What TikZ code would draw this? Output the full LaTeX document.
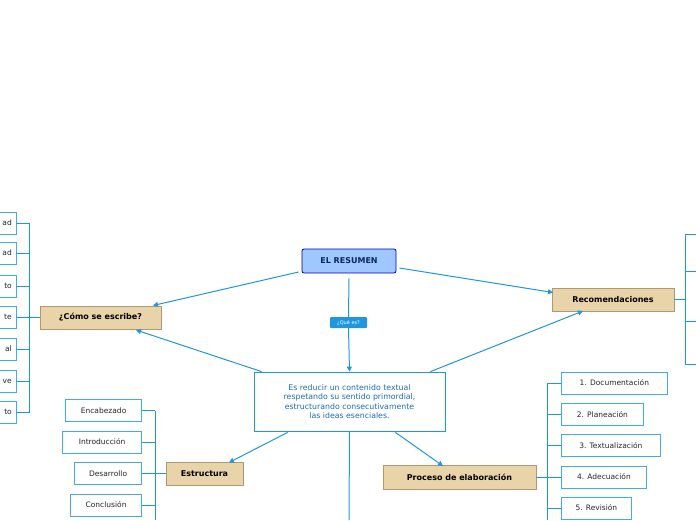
\documentclass[tikz,border=0pt]{standalone}
\usepackage{fontspec}
\setmainfont{DejaVu Sans}
\usetikzlibrary{arrows.meta}
\definecolor{ln}{HTML}{1E96E0}
\definecolor{tan}{HTML}{E8D4A8}
\definecolor{tanb}{HTML}{B09870}
\definecolor{kb}{HTML}{45A8F0}
\begin{document}
\begin{tikzpicture}[x=1pt,y=-1pt,
 lnk/.style={draw=ln,line width=1pt},
 arr/.style={lnk,-{Triangle[length=5pt,width=5pt]}},
 topic/.style={draw=tanb,fill=tan,line width=0.8pt,font=\fontsize{8}{9}\selectfont\bfseries,inner sep=0pt,minimum height=23pt},
 kid/.style={draw=kb,fill=white,line width=0.8pt,font=\fontsize{7.5}{9}\selectfont,inner sep=0pt,minimum height=22pt,text=black!85}]
\useasboundingbox (0,0) rectangle (696,520);
\clip (0,0) rectangle (696,520);
% nodes
\node[draw=blue!70!black,fill={rgb,255:red,158;green,200;blue,255},rounded corners=2pt,line width=0.8pt,minimum width=94pt,minimum height=24pt,inner sep=0pt,font=\fontsize{8}{9}\selectfont\bfseries,text={rgb,255:red,10;green,40;blue,90}] (root) at (349,261) {EL RESUMEN};
\node[fill=ln,rounded corners=1pt,minimum width=37pt,minimum height=11pt,inner sep=0pt,text=white,font=\fontsize{5}{6}\selectfont] (q) at (348.5,322.5) {¿Qué es?};
\node[draw=ln,fill=white,line width=0.8pt,minimum width=191pt,minimum height=59pt,inner sep=0pt,align=center,text={rgb,255:red,30;green,110;blue,176},font=\fontsize{7.8}{9.4}\selectfont] (c) at (349.5,401.5) {Es reducir un contenido textual\\respetando su sentido primordial,\\estructurando consecutivamente\\las ideas esenciales.};
\node[topic,minimum width=121pt] (como) at (100.5,317.5) {¿Cómo se escribe?};
\node[topic,minimum width=122pt] (rec) at (613,299.5) {Recomendaciones};
\node[topic,minimum width=77pt] (est) at (204.5,473.5) {Estructura};
\node[topic,minimum width=153pt,minimum height=24pt] (pro) at (459.5,477) {Proceso de elaboración};
% arrows
\draw[arr] (root.west)++(-3,11) coordinate (r1) -- (153,305.5) coordinate (a1);
\draw[arr] (root.east)++(3,7) coordinate (r2) -- (553,292.5) coordinate (a2);
\draw[lnk] (root.south)++(0,5) coordinate (r3) -- (q.north);
\draw[arr] (q.south) -- (c.north);
\draw[arr] (c.north west)++(8,0) coordinate (c1) -- (136,330) coordinate (a3);
\draw[arr] (c.north east)++(-15,0) coordinate (c2) -- (583,311) coordinate (a4);
\draw[arr] (c.south west)++(34,1) coordinate (c3) -- (229,462.5) coordinate (a5);
\draw[arr] (c.south east)++(-50,1) coordinate (c4) -- (443,466) coordinate (a6);
\coordinate (cb) at (349,520);
\draw[lnk] (c.south) -- (cb);
% left children
\coordinate (lv) at (29,317.5);
\draw[lnk] (como.west) -- (lv);
\foreach \y/\t [count=\i] in {223/ad,253/ad,286/to,317/te,349/al,381/ve,412/to}{
  \node[kid,minimum width=60pt] (l\i) at (-14,\y) {};
  \node[anchor=east,inner sep=0pt,font=\fontsize{7.5}{9}\selectfont,text=black!85] at (12,\y) {\t};
  \draw[lnk,line width=0.8pt] (l\i.east) -- (29,\y);
}
\draw[lnk,line width=0.8pt] (29,222.5) -- (29,412.5);
% estructura children
\draw[lnk] (est.west) -- (155,473.5);
\draw[lnk,line width=0.8pt] (155,410.5) -- (155,520);
\foreach \y/\w/\t [count=\i] in {410.5/76/Encabezado,442/79/Introducción,473.5/67/Desarrollo,505/71/Conclusión}{
  \node[kid,minimum width=\w pt,anchor=east] (e\i) at (142,\y) {\t};
  \draw[lnk,line width=0.8pt] (e\i.east) -- (155,\y);
}
% proceso children
\draw[lnk] (pro.east) -- (547,477);
\draw[lnk,line width=0.8pt] (547,383) -- (547,520);
\foreach \y/\w/\t [count=\i] in {383/106/1. Documentación,414.5/82/2. Planeación,445.5/99/3. Textualización,477/85/4. Adecuación,508/70/5. Revisión}{
  \node[kid,minimum width=\w pt,anchor=west] (p\i) at (561,\y) {\t};
  \draw[lnk,line width=0.8pt] (547,\y) -- (p\i.west);
}
% recomendaciones children
\draw[lnk] (rec.east) -- (685,299.5);
\draw[lnk,line width=0.8pt] (685,234) -- (685,364);
\foreach \y in {234,271,321,364}{
  \draw[lnk,line width=0.8pt] (685,\y) -- (700,\y);
}
\end{tikzpicture}
\end{document}
